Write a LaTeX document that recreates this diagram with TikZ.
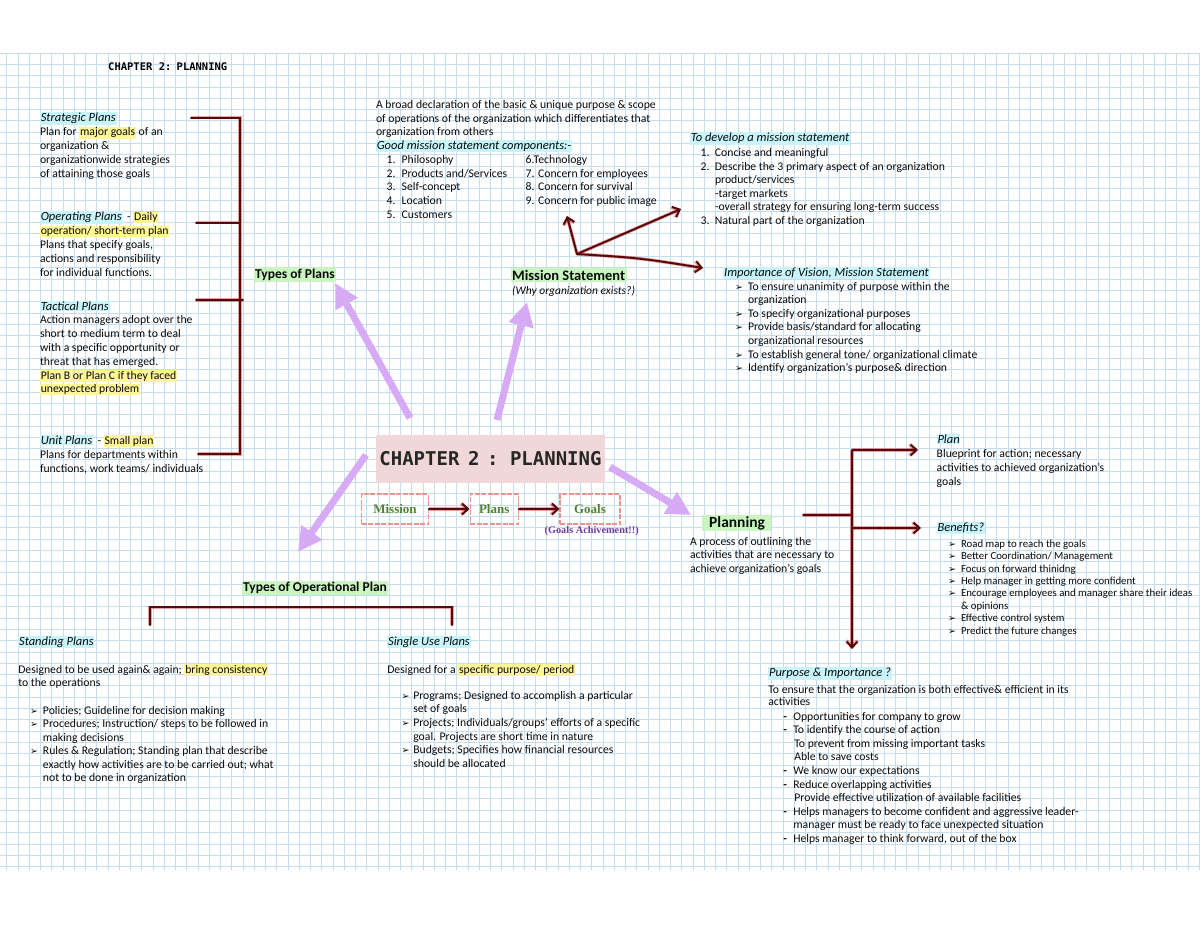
\documentclass[tikz,border=0pt]{standalone}
\usepackage{fontspec}
\setmainfont{Carlito}
\newfontfamily\monob{DejaVu Sans Mono}
\newfontfamily\dvs{DejaVu Sans}
\newfontfamily\serf{Liberation Serif}
\usetikzlibrary{arrows.meta}
\definecolor{gridc}{RGB}{198,221,239}
\definecolor{darkred}{RGB}{88,8,8}
\definecolor{glow}{RGB}{205,25,25}
\definecolor{lav}{RGB}{214,170,245}
\definecolor{hcyan}{RGB}{200,244,252}
\definecolor{hyel}{RGB}{255,246,150}
\definecolor{hgreen}{RGB}{200,245,192}
\definecolor{boxgreen}{RGB}{80,130,50}
\definecolor{pinkfill}{RGB}{240,216,216}
\definecolor{pinkline}{RGB}{232,150,140}
\definecolor{purp}{RGB}{110,60,160}
\definecolor{txtc}{RGB}{10,10,10}
\newcommand\hc[1]{{\setlength\fboxsep{0.8pt}\colorbox{hcyan}{#1}}}
\newcommand\hy[1]{{\setlength\fboxsep{0.8pt}\colorbox{hyel}{#1}}}
\newcommand\hg[1]{{\setlength\fboxsep{1.5pt}\colorbox{hgreen}{#1}}}
\newcommand\R{\rule{0pt}{11pt}}
\newcommand\bul{\makebox[13pt][l]{{\dvs\bfseries\fontsize{9.5}{9}\selectfont ➢}}}
\newcommand\sbul{\makebox[11.6pt][l]{{\dvs\bfseries\fontsize{9.5}{9}\selectfont ➢}}}
\newcommand\ind{\hspace*{13pt}}
\newcommand\nb[1]{\makebox[15pt][l]{#1}}
\newcommand\dsh{\makebox[10pt][l]{\textbf{-}}}
\newcommand\hd[1]{\hc{\itshape\fontsize{12.5}{12.5}\selectfont #1}}
\begin{document}
\begin{tikzpicture}[x=1pt,y=-1pt,
  gridline/.style={draw=gridc,line width=0.75pt},
  tb/.style={anchor=north west,inner sep=0pt,outer sep=0pt,align=left,yshift=11pt,text=txtc,font=\fontsize{11.7}{13.8}\selectfont},
  sp/.style={font=\fontsize{11.7}{#1}\selectfont},
  gh/.style={anchor=base west,inner sep=0pt,text=txtc,font=\bfseries\fontsize{13.5}{15}\selectfont},
  redline/.style={draw=darkred,line width=2pt,line cap=round,preaction={draw=glow,line width=3.4pt,opacity=0.4}},
  redarrow/.style={redline,-{Straight Barb[length=6pt,width=11pt]}},
  lavarrow/.style={draw=lav,line width=7pt,-{Triangle[length=24pt,width=24pt]}},
  smallbox/.style={draw=pinkline,line width=1.1pt,dash pattern=on 5pt off 1.5pt,inner sep=0pt,minimum height=30pt,text=boxgreen,font=\serf\bfseries\fontsize{13}{13}\selectfont}
]
\useasboundingbox (0,0) rectangle (1200,927);
\fill[white] (0,0) rectangle (1200,927);
\foreach \i in {0,...,106} \draw[gridline] ({6.7+11.25*\i},53) -- ({6.7+11.25*\i},870);
\foreach \j in {0,...,72} \draw[gridline] (0,{53+11.3*\j}) -- (1200,{53+11.3*\j});

% top title
\node[anchor=base west,inner sep=0pt,font=\monob\bfseries\fontsize{10.5}{12}\selectfont] (toptitle) at (108,70) {CHAPTER 2:\hspace{-0.3em} PLANNING};

% ---------- Types of plans column ----------
\node[tb,sp=14] (strat) at (40,121.7) {\R\hd{Strategic Plans}\\Plan for \hy{major goals} of an\\organization \&\\organizationwide strategies\\of attaining those goals};
\node[tb,sp=14] (oper) at (40,220.7) {\R\hd{Operating Plans} \,- \hy{Daily}\\\hy{operation/ short-term plan}\\Plans that specify goals,\\actions and responsibility\\for individual functions.};
\node[tb,sp=13.8] (tact) at (40,310) {\R\hd{Tactical Plans}\\Action managers adopt over the\\short to medium term to deal\\with a specific opportunity or\\threat that has emerged.\\\hy{Plan B or Plan C if they faced}\\\hy{unexpected problem}};
\node[tb,sp=14.2] (unit) at (40,444.3) {\R\hd{Unit Plans} \,- \hy{Small plan}\\Plans for departments within\\functions, work teams/ individuals};

\coordinate (b1) at (191,117.7);
\coordinate (b1c) at (240,117.7);
\coordinate (b4c) at (240,454);
\coordinate (b4) at (198,454);
\coordinate (b2) at (196,222.7);
\coordinate (b2c) at (240,222.7);
\coordinate (b3) at (196,300);
\coordinate (b3c) at (243,300);
\draw[redline] (b1) -- (b1c) -- (b4c) -- (b4);
\draw[redline] (b2) -- (b2c);
\draw[redline] (b3) -- (b3c);
\node[gh] (tplans) at (253.5,278) {\hg{Types of Plans}};

% ---------- Mission statement area ----------
\node[tb,sp=13.7] (mdef) at (376,108.3) {\R A broad declaration of the basic \& unique purpose \& scope\\of operations of the organization which differentiates that\\organization from others\\\hd{Good mission statement components:-}};
\node[tb,sp=13.7] (mcol1) at (386.7,163.3) {\R\nb{1.}Philosophy\\\nb{2.}Products and/Services\\\nb{3.}Self-concept\\\nb{4.}Location\\\nb{5.}Customers};
\node[tb,sp=13.7] (mcol2) at (525.7,163.3) {\R 6.Technology\\7. Concern for employees\\8. Concern for survival\\9. Concern for public image};

\node[anchor=base west,inner sep=0pt,font=\bfseries\fontsize{14.5}{16}\selectfont,text=txtc] (mstate) at (510.5,280) {\hg{Mission Statement}};
\node[anchor=base west,inner sep=0pt,font=\itshape\fontsize{11.5}{13}\selectfont,text=txtc] (mwhy) at (512,294) {(Why organization exists?)};

\coordinate (mj) at (577,254);
\coordinate (mt1) at (567,216);
\coordinate (mt2) at (681,209);
\coordinate (mt3) at (703,268);
\draw[redarrow] (mj) -- (mt1);
\draw[redarrow] (mj) -- (mt2);
\draw[redarrow] (mj) .. controls (640,258) .. (mt3);

\node[tb] (devh) at (690,141.7) {\R\hd{To develop a mission statement}};
\node[tb,sp=13.5] (devl) at (700.7,156.7) {\R\makebox[14.3pt][l]{1.}Concise and meaningful\\\makebox[14.3pt][l]{2.}Describe the 3 primary aspect of an organization\\\hspace*{14.3pt}product/services\\\hspace*{14.3pt}-target markets\\\hspace*{14.3pt}-overall strategy for ensuring long-term success\\\makebox[14.3pt][l]{3.}Natural part of the organization};

\node[tb] (imph) at (723.3,276) {\R\hd{Importance of Vision, Mission Statement}};
\node[tb,sp=13.6] (impl) at (735,290) {\R\bul To ensure unanimity of purpose within the\\\ind organization\\\bul To specify organizational purposes\\\bul Provide basis/standard for allocating\\\ind organizational resources\\\bul To establish general tone/ organizational climate\\\bul Identify organization's purpose\& direction};

% ---------- centre ----------
\node[fill=pinkfill,minimum width=229pt,minimum height=48pt,inner sep=0pt,font=\monob\bfseries\fontsize{19}{20}\selectfont,text=black!85] (title) at (490.5,459) {CHAPTER\hspace{-0.15em} 2\hspace{-0.2em} :\hspace{-0.2em} PLANNING};
\node[smallbox,minimum width=66.6pt] (mission) at (395,509) {Mission};
\node[smallbox,minimum width=48.3pt] (plans) at (494.2,509) {Plans};
\node[smallbox,minimum width=60pt] (goals) at (590,509) {Goals};
\draw[redarrow] (mission.east) -- (plans.west);
\draw[redarrow] (plans.east) -- (goals.west);
\node[anchor=base,inner sep=0pt,text=purp,font=\serf\bfseries\fontsize{10.3}{12}\selectfont] (gach) at (591.7,533.5) {(Goals Achivement!!)};

\coordinate (a1s) at (410,418);
\coordinate (a1e) at (335,283);
\coordinate (a2s) at (497,420);
\coordinate (a2e) at (527,302);
\coordinate (a3s) at (366,455);
\coordinate (a3e) at (298,552);
\coordinate (a4s) at (610,467);
\coordinate (a4e) at (691,515);
\draw[lavarrow] (a1s) -- (a1e);
\draw[lavarrow] (a2s) -- (a2e);
\draw[lavarrow] (a3s) -- (a3e);
\draw[lavarrow] (a4s) -- (a4e);

% ---------- Planning ----------
\node[anchor=base west,inner sep=0pt,font=\bfseries\fontsize{15.5}{17}\selectfont,text=txtc] (planning) at (701.5,527) {{\setlength\fboxsep{1.5pt}\colorbox{hgreen}{\hspace{6pt}Planning\hspace{4pt}}}};
\node[tb,sp=13.8] (plandef) at (690,545) {\R A process of outlining the\\activities that are necessary to\\achieve organization's goals};

\coordinate (pin) at (803,515);
\coordinate (pj) at (852,515);
\coordinate (ptop) at (852,450);
\coordinate (pmid) at (852,528);
\coordinate (pbot) at (852,649);
\coordinate (pplan) at (918,450);
\coordinate (pben) at (921,528);
\draw[redline] (pin) -- (pj);
\draw[redarrow] (ptop) -- (pbot);
\draw[redarrow] (ptop) -- (pplan);
\draw[redarrow] (pmid) -- (pben);

\node[tb,sp=14] (plan) at (936.7,443.3) {\R\hd{Plan}\\Blueprint for action; necessary\\activities to achieved organization's\\goals};
\node[tb] (benh) at (936.7,531.7) {\R\hd{Benefits?}};
\node[tb,font=\fontsize{10.8}{12.4}\selectfont] (benl) at (948,547.3) {\R\bul Road map to reach the goals\\\bul Better Coordination/ Management\\\bul Focus on forward thinidng\\\bul Help manager in getting more confident\\\bul Encourage employees and manager share their ideas\\\ind \& opinions\\\bul Effective control system\\\bul Predict the future changes};

\node[tb] (purh) at (768.3,676.7) {\R\hd{Purpose \& Importance ?}};
\node[tb,sp=12] (purd) at (768.3,693.3) {\R To ensure that the organization is both effective\& efficient in its\\activities};
\node[tb,sp=13.6] (purl) at (783.3,720) {\R\dsh Opportunities for company to grow\\\dsh To identify the course of action\\\hspace*{11pt}To prevent from missing important tasks\\\hspace*{11pt}Able to save costs\\\dsh We know our expectations\\\dsh Reduce overlapping activities\\\hspace*{11pt}Provide effective utilization of available facilities\\\dsh Helps managers to become confident and aggressive leader-\\\hspace*{10pt}manager must be ready to face unexpected situation\\\dsh Helps manager to think forward, out of the box};

% ---------- Operational plans ----------
\node[gh] (topl) at (241.5,591.5) {\hg{Types of Operational Plan}};
\coordinate (o1) at (150,625);
\coordinate (o1c) at (150,607.3);
\coordinate (o2c) at (452,607.3);
\coordinate (o2) at (452,625);
\draw[redline] (o1) -- (o1c) -- (o2c) -- (o2);

\node[tb] (stdh) at (18.3,645) {\R\hd{Standing Plans}};
\node[tb,sp=12.7] (stdd) at (18.3,673.3) {\R Designed to be used again\& again; \hy{bring consistency}\\to the operations};
\node[tb,sp=13.5] (stdl) at (30,714) {\R\bul Policies; Guideline for decision making\\\bul Procedures; Instruction/ steps to be followed in\\\ind making decisions\\\bul Rules \& Regulation; Standing plan that describe\\\ind exactly how activities are to be carried out; what\\\ind not to be done in organization};

\node[tb] (sinh) at (387.3,645) {\R\hd{Single Use Plans}};
\node[tb] (sind) at (387.3,673.3) {\R Designed for a \hy{specific purpose/ period}};
\node[tb,sp=13.6] (sinl) at (401.7,699.3) {\R\sbul Programs; Designed to accomplish a particular\\\hspace*{11.6pt}set of goals\\\sbul Projects; Individuals/groups' efforts of a specific\\\hspace*{11.6pt}goal. Projects are short time in nature\\\sbul Budgets; Specifies how financial resources\\\hspace*{11.6pt}should be allocated};
\end{tikzpicture}
\end{document}
